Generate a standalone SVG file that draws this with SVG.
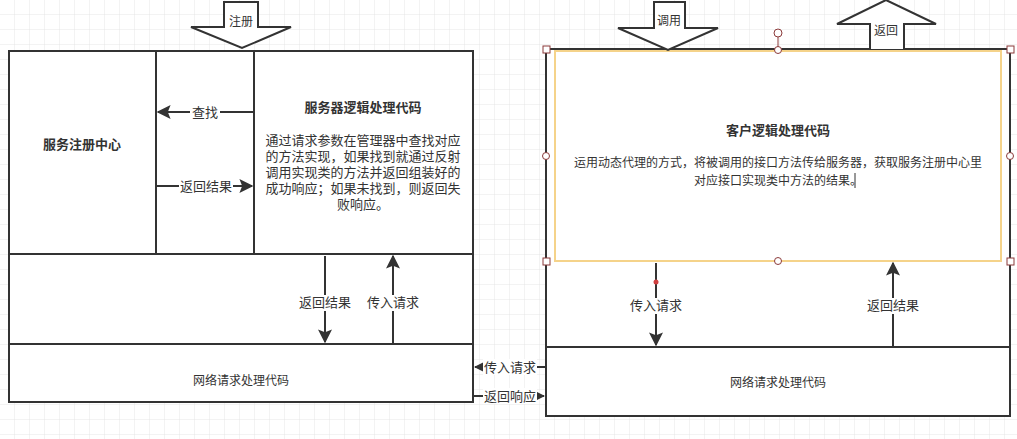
<svg xmlns="http://www.w3.org/2000/svg" width="1017" height="439" viewBox="0 0 1017 439">
<defs>
<pattern id="grid" width="15" height="15" patternUnits="userSpaceOnUse"><path d="M15 0V15H0" fill="none" stroke="#e6e6e6" stroke-width="1"/></pattern>
<marker id="ah" viewBox="0 0 10 10" refX="9" refY="5" markerWidth="10" markerHeight="10" markerUnits="userSpaceOnUse" orient="auto"><path d="M0 0L10 5L0 10z" fill="#333"/></marker>
<marker id="ahb" viewBox="0 0 10 10" refX="9" refY="5" markerWidth="14" markerHeight="14" markerUnits="userSpaceOnUse" orient="auto"><path d="M0 0L10 5L0 10L2 5z" fill="#333"/></marker>
</defs>
<style>
.b{fill:#fff;stroke:#333;stroke-width:2}
.t{font-family:"Liberation Sans","Noto Sans CJK SC",sans-serif;font-size:12px;fill:#333;text-anchor:middle}
.m{font-size:13px}
.h{font-weight:bold;font-size:13px}
.lb{fill:#fff}
.c{stroke:#333;stroke-width:2;fill:none}
.ba{fill:#fff;stroke:#333;stroke-width:2}
.hd{fill:#fff;stroke:#8b3a3a;stroke-width:1}
</style>
<rect width="1017" height="439" fill="#fff"/>
<rect width="1017" height="439" fill="url(#grid)"/>
<g id="left-outer"><rect class="b" x="9" y="51" width="464" height="351"/><line class="c" x1="9" y1="254" x2="473" y2="254"/></g>
<g id="registry"><rect class="b" x="9" y="51" width="147" height="203"/><text class="t h" x="82" y="149">服务注册中心</text></g>
<g id="server-logic"><rect class="b" x="254" y="51" width="219" height="203"/>
<text class="t h" x="363" y="112">服务器逻辑处理代码</text>
<text class="t m" x="363" y="145">通过请求参数在管理器中查找对应</text>
<text class="t m" x="363" y="161">的方法实现，如果找到就通过反射</text>
<text class="t m" x="363" y="177">调用实现类的方法并返回组装好的</text>
<text class="t m" x="363" y="193">成功响应；如果未找到，则返回失</text>
<text class="t m" x="363" y="209">败响应。</text></g>
<g id="left-network"><rect class="b" x="9" y="344" width="464" height="58"/><text class="t" x="241" y="385">网络请求处理代码</text></g>
<g id="register-arrow"><path class="ba" d="M224 2H258V27H291L242 48L191 27H224Z"/><text class="t" x="241" y="26">注册</text></g>
<g id="right-outer"><rect class="b" x="546" y="49" width="464" height="367"/></g>
<g id="client-logic"><rect x="555" y="51" width="446" height="210" fill="#fff" stroke="#f5d38a" stroke-width="2"/>
<text class="t h" x="778" y="135">客户逻辑处理代码</text>
<text class="t" x="778" y="167">运用动态代理的方式，将被调用的接口方法传给服务器，获取服务注册中心里</text>
<text class="t" x="778" y="185">对应接口实现类中方法的结果。</text>
<line x1="855" y1="173" x2="855" y2="188" stroke="#333"/></g>
<g id="right-network"><rect class="b" x="546" y="347" width="464" height="69"/><text class="t" x="778" y="387">网络请求处理代码</text></g>
<g id="call-arrow"><path class="ba" d="M654 2H685V28H718L668 50L618 28H654Z"/><text class="t" x="669" y="25">调用</text></g>
<g id="return-arrow"><path class="ba" d="M870 49V24H837L886 0L936 24H904V49"/><text class="t" x="886" y="35">返回</text></g>
<g id="connectors">
<line class="c" x1="254" y1="112" x2="158" y2="112" marker-end="url(#ahb)"/><rect class="lb" x="190" y="104" width="30" height="16"/><text class="t m" x="205" y="117">查找</text>
<line class="c" x1="156" y1="186" x2="252" y2="186" marker-end="url(#ahb)"/><rect class="lb" x="179" y="178" width="54" height="16"/><text class="t m" x="206" y="191">返回结果</text>
<line class="c" x1="325" y1="256" x2="325" y2="342" marker-end="url(#ahb)"/><rect class="lb" x="298" y="295" width="54" height="16"/><text class="t m" x="325" y="307">返回结果</text>
<line class="c" x1="393" y1="344" x2="393" y2="256" marker-end="url(#ahb)"/><rect class="lb" x="366" y="295" width="54" height="16"/><text class="t m" x="393" y="307">传入请求</text>
<line class="c" x1="545" y1="367" x2="475" y2="367" marker-end="url(#ah)"/><rect class="lb" x="483" y="359" width="54" height="16"/><text class="t m" x="510" y="372">传入请求</text>
<line class="c" x1="473" y1="396" x2="544" y2="396" marker-end="url(#ah)"/><rect class="lb" x="483" y="388" width="54" height="16"/><text class="t m" x="510" y="401">返回响应</text>
<line class="c" x1="656" y1="263" x2="656" y2="345" marker-end="url(#ahb)"/><rect class="lb" x="629" y="298" width="54" height="16"/><text class="t m" x="656" y="310">传入请求</text>
<line class="c" x1="893" y1="347" x2="893" y2="263" marker-end="url(#ahb)"/><rect class="lb" x="866" y="298" width="54" height="16"/><text class="t m" x="893" y="310">返回结果</text>
</g>
<g id="selection">
<line x1="778" y1="37" x2="778" y2="49" stroke="#8b3a3a"/>
<circle class="hd" cx="778" cy="33" r="4"/>
<rect class="hd" x="543" y="46" width="7" height="7"/><rect class="hd" x="1007" y="46" width="7" height="7"/>
<rect class="hd" x="543" y="258" width="7" height="7"/><rect class="hd" x="1007" y="258" width="7" height="7"/>
<circle class="hd" cx="778" cy="50" r="3.5"/><circle class="hd" cx="778" cy="261" r="3.5"/>
<circle class="hd" cx="546" cy="156" r="3.5"/><circle class="hd" cx="1010" cy="156" r="3.5"/>
<circle cx="656" cy="282" r="2.5" fill="#d04040"/>
</g>
</svg>
